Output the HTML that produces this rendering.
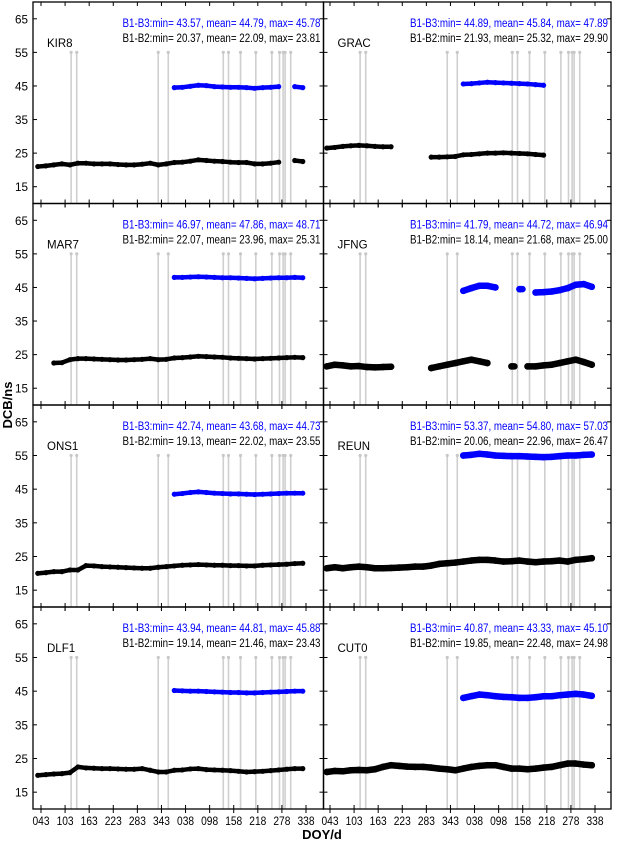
<!DOCTYPE html>
<html><head><meta charset="utf-8"><style>
html,body{margin:0;padding:0;background:#fff;}
svg{display:block;font-family:"Liberation Sans",Arial,sans-serif;}
</style></head><body>
<svg id="chart" width="617" height="844" viewBox="0 0 617 844" xmlns="http://www.w3.org/2000/svg">
<text x="12" y="405" font-size="13" font-weight="bold" text-anchor="middle" transform="rotate(-90 12 405)">DCB/ns</text>
<text x="322" y="839" font-size="13" font-weight="bold" text-anchor="middle">DOY/d</text>
</svg>
<script>
const days = [35,55,75,95,115,135,155,175,195,215,235,255,275,295,315,335,355,375,395,415,435,455,475,495,515,535,555,575,595,615,635,655,675,695];
const gapDays = [118,132,335,360,497,510,540,578,618,637,646,651,665];
const yTicks = [15,25,35,45,55,65];
const xTickDays = [43,103,163,223,283,343,403,463,523,583,643,703];
const xTickLabels = ["043","103","163","223","283","343","038","098","158","218","278","338"];
const N = null;
const kir8B2 = [21,21.2,21.5,21.8,21.5,22,22,21.8,21.8,21.8,21.6,21.5,21.5,21.7,22,21.5,21.8,22.2,22.3,22.6,23,22.8,22.6,22.5,22.3,22.2,22.2,21.8,21.8,22,22.3,N,22.8,22.5];
const kir8B3 = [N,N,N,N,N,N,N,N,N,N,N,N,N,N,N,N,N,44.5,44.6,44.9,45.2,45.1,44.8,44.7,44.6,44.6,44.5,44.3,44.5,44.6,44.8,N,44.8,44.5];
const gracB2 = [26.5,26.7,27,27.2,27.3,27.2,27,26.9,26.9,N,N,N,N,23.8,23.8,23.9,24,24.5,24.6,24.8,25,25,25.1,25,24.9,24.8,24.6,24.4,N,N,N,N,N,N];
const gracB3 = [N,N,N,N,N,N,N,N,N,N,N,N,N,N,N,N,N,45.6,45.7,45.9,46.1,46,45.9,45.8,45.7,45.6,45.4,45.2,N,N,N,N,N,N];
const mar7B2 = [N,N,22.5,22.6,23.5,23.8,23.8,23.7,23.6,23.5,23.4,23.4,23.5,23.6,23.8,23.5,23.6,24,24.1,24.3,24.5,24.4,24.3,24.2,24,23.9,23.8,23.7,23.8,23.9,24,24.1,24.2,24.1];
const mar7B3 = [N,N,N,N,N,N,N,N,N,N,N,N,N,N,N,N,N,48,48,48.1,48.2,48.1,48,47.9,47.9,47.8,47.7,47.6,47.7,47.8,47.9,47.9,48,47.9];
const jfngB2 = [21.5,22,21.8,21.5,21.6,21.3,21.2,21.3,21.4,N,N,N,N,21,21.5,22,22.5,23,23.5,23,22.5,N,N,21.5,N,21.5,21.5,21.8,22,22.5,23,23.5,22.8,22];
const jfngB3 = [N,N,N,N,N,N,N,N,N,N,N,N,N,N,N,N,N,44,44.8,45.5,45.5,45,N,N,44.5,N,43.5,43.6,43.8,44.2,44.8,45.8,46,45.2];
const ons1B2 = [20,20.2,20.5,20.5,21,21,22.3,22.2,22,21.9,21.8,21.7,21.6,21.5,21.5,21.8,22,22.2,22.4,22.5,22.6,22.5,22.4,22.4,22.3,22.3,22.2,22.2,22.4,22.5,22.6,22.7,22.9,23];
const ons1B3 = [N,N,N,N,N,N,N,N,N,N,N,N,N,N,N,N,N,43.5,43.7,44,44.2,44,43.8,43.7,43.6,43.6,43.5,43.4,43.5,43.6,43.7,43.8,43.8,43.8];
const reunB2 = [21.5,21.8,21.5,21.8,22,21.8,21.5,21.5,21.6,21.7,21.8,22,22,22.3,22.8,23,23.2,23.5,23.8,24,24,23.8,23.5,23.6,23.8,23.5,23.3,23.5,23.6,23.8,23.5,24,24.2,24.5];
const reunB3 = [N,N,N,N,N,N,N,N,N,N,N,N,N,N,N,N,N,55,55.2,55.5,55.3,55,54.9,54.8,54.8,54.7,54.6,54.5,54.6,54.8,55,55,55.2,55.3];
const dlf1B2 = [20,20.2,20.4,20.5,20.8,22.5,22.2,22.1,22,22,21.9,21.8,21.8,22,21.5,21,21,21.5,21.6,21.9,22,21.7,21.6,21.5,21.4,21.2,21,21.1,21.2,21.4,21.6,21.8,22,22];
const dlf1B3 = [N,N,N,N,N,N,N,N,N,N,N,N,N,N,N,N,N,45.2,45.1,45,45,44.9,44.8,44.7,44.6,44.6,44.5,44.5,44.6,44.7,44.8,44.9,45,45];
const cut0B2 = [21,21.3,21.2,21.5,21.6,21.5,21.8,22.5,23,22.8,22.6,22.5,22.5,22.3,22,21.8,21.5,22,22.5,22.8,23,23,22.5,22,22,21.8,22,22.3,22.5,23,23.5,23.5,23.2,23];
const cut0B3 = [N,N,N,N,N,N,N,N,N,N,N,N,N,N,N,N,N,43,43.5,44,43.8,43.5,43.3,43.2,43,43,43.2,43.5,43.5,43.8,44,44.2,44,43.6];

const panels = [
 {name:"KIR8",col:0,row:0,b2:kir8B2,b3:kir8B3,t3:"B1-B3:min= 43.57, mean= 44.79, max= 45.78",t2:"B1-B2:min= 20.37, mean= 22.09, max= 23.81",noisy:false},
 {name:"GRAC",col:1,row:0,b2:gracB2,b3:gracB3,t3:"B1-B3:min= 44.89, mean= 45.84, max= 47.89",t2:"B1-B2:min= 21.93, mean= 25.32, max= 29.90",noisy:false},
 {name:"MAR7",col:0,row:1,b2:mar7B2,b3:mar7B3,t3:"B1-B3:min= 46.97, mean= 47.86, max= 48.71",t2:"B1-B2:min= 22.07, mean= 23.96, max= 25.31",noisy:false},
 {name:"JFNG",col:1,row:1,b2:jfngB2,b3:jfngB3,t3:"B1-B3:min= 41.79, mean= 44.72, max= 46.94",t2:"B1-B2:min= 18.14, mean= 21.68, max= 25.00",noisy:true},
 {name:"ONS1",col:0,row:2,b2:ons1B2,b3:ons1B3,t3:"B1-B3:min= 42.74, mean= 43.68, max= 44.73",t2:"B1-B2:min= 19.13, mean= 22.02, max= 23.55",noisy:false},
 {name:"REUN",col:1,row:2,b2:reunB2,b3:reunB3,t3:"B1-B3:min= 53.37, mean= 54.80, max= 57.03",t2:"B1-B2:min= 20.06, mean= 22.96, max= 26.47",noisy:true},
 {name:"DLF1",col:0,row:3,b2:dlf1B2,b3:dlf1B3,t3:"B1-B3:min= 43.94, mean= 44.81, max= 45.88",t2:"B1-B2:min= 19.14, mean= 21.46, max= 23.43",noisy:false},
 {name:"CUT0",col:1,row:3,b2:cut0B2,b3:cut0B3,t3:"B1-B3:min= 40.87, mean= 43.33, max= 45.10",t2:"B1-B2:min= 19.85, mean= 22.48, max= 24.98",noisy:true}
];
const svg = document.getElementById('chart');
const NS = 'http://www.w3.org/2000/svg';
const rowTops = [2,203.5,405,607,809];
const colLeft = [33,323.5], colRight=[323.5,611], col043=[41,330];
function mk(tag, attrs, parent){const e=document.createElementNS(NS,tag);for(const k in attrs)e.setAttribute(k,attrs[k]);(parent||svg).appendChild(e);return e;}
function xScale(col,d){return col043[col]+(d-43)*0.4015;}
function yScale(row,v){const t=rowTops[row],b=rowTops[row+1];return b-(v-10)*(b-t)/60;}

panels.forEach(p=>{
  const g=mk('g',{});
  
  
  const L=colLeft[p.col],R=colRight[p.col],T=rowTops[p.row],B=rowTops[p.row+1];
  gapDays.forEach(d=>{
    const x=xScale(p.col,d), y=yScale(p.row,55);
    const l=mk('line',{x1:x,x2:x,y1:y,y2:B,stroke:'#cfcfcf','stroke-width':1.6},g);
    
    
    mk('circle',{cx:x,cy:y,r:1.6,fill:'#c8c8c8'},g);
  });
  [[p.b2,'#000','b1-b2-series'],[p.b3,'#0000ff','b1-b3-series']].forEach(([arr,col,nm])=>{
    let segs=[],cur=[];
    arr.forEach((v,i)=>{ if(v===null){if(cur.length)segs.push(cur);cur=[];} else cur.push([xScale(p.col,days[i]),yScale(p.row,v)]); });
    if(cur.length)segs.push(cur);
    segs.forEach(s=>{
      if(s.length===1)s.push([s[0][0]+3,s[0][1]]);
      const pl=mk('polyline',{points:s.map(q=>q.join(',')).join(' '),fill:'none',stroke:col,'stroke-width':p.noisy?6.5:4.5,'stroke-linejoin':'round','stroke-linecap':'round'},g);
      
      
    });
    arr.forEach((v,i)=>{ if(v===null)return;
      const c=mk('circle',{cx:xScale(p.col,days[i]),cy:yScale(p.row,v),r:p.noisy?3.3:2.6,fill:col},g);
      
      
    });
  });
  const fr=mk('rect',{x:L,y:T,width:R-L,height:B-T,fill:'none',stroke:'#000','stroke-width':1.3},g);
  
  
  yTicks.forEach(v=>{
    const y=yScale(p.row,v);
    mk('line',{x1:L,x2:L+4,y1:y,y2:y,stroke:'#000','stroke-width':1},g);
    mk('line',{x1:R-4,x2:R,y1:y,y2:y,stroke:'#000','stroke-width':1},g);
    if(p.col===0){
      const t=mk('text',{x:L-5,y:y+4.5,'font-size':12,'text-anchor':'end',textLength:13,lengthAdjust:'spacingAndGlyphs'},g);
      t.textContent=v;
      
      
    }
  });
  xTickDays.forEach((d,i)=>{
    const x=xScale(p.col,d);
    mk('line',{x1:x,x2:x,y1:B-4,y2:B+4,stroke:'#000','stroke-width':1},g);
    mk('line',{x1:x,x2:x,y1:T,y2:T+4,stroke:'#000','stroke-width':1},g);
    if(p.row===3){
      const t=mk('text',{x:x,y:825,'font-size':11.5,'text-anchor':'middle',textLength:17,lengthAdjust:'spacingAndGlyphs'},g);
      t.textContent=xTickLabels[i];
      
      
    }
  });
  const nt=mk('text',{x:L+14,y:T+45,'font-size':11.5},g);
  nt.textContent=p.name;
  
  
  const t3=mk('text',{x:R-3,y:T+25,'font-size':11.5,'text-anchor':'end',fill:'#0000ff',textLength:198,lengthAdjust:'spacingAndGlyphs'},g);
  t3.textContent=p.t3;
  
  
  const t2=mk('text',{x:R-3,y:T+40,'font-size':11.5,'text-anchor':'end',fill:'#000',textLength:198,lengthAdjust:'spacingAndGlyphs'},g);
  t2.textContent=p.t2;
  
  
});
</script>
</body></html>
